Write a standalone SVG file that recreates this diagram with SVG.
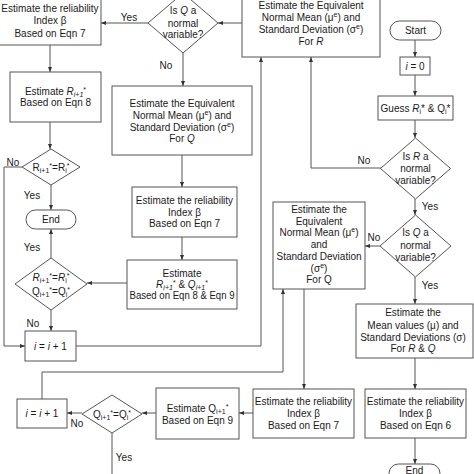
<svg xmlns="http://www.w3.org/2000/svg" width="474" height="474" viewBox="0 0 474 474">
<defs>
<marker id="ah" viewBox="0 0 10 10" refX="10" refY="5" markerWidth="5" markerHeight="5" orient="auto" markerUnits="userSpaceOnUse">
<path d="M0,1 L10,5 L0,9 z" fill="#333"/>
</marker>
<style>
.n rect, .n polygon { fill:#fff; stroke:#555; stroke-width:1; }
text { font-family:"Liberation Sans", Arial, sans-serif; font-size:10px; fill:#1a1a1a; text-anchor:middle; }
.i { font-style:italic; }
.s { font-size:7px; }
.c path { fill:none; stroke:#555; stroke-width:1; marker-end:url(#ah); }
.c path.p { marker-end:none; }
</style>
</defs>
<rect width="474" height="474" fill="#fff"/>

<g id="connectors" class="c">
<path d="M415,40 V57"/>
<path d="M415,75 V96"/>
<path d="M415,120 V138"/>
<path d="M381,168 H311 V57"/>
<path d="M415,199 V215"/>
<path d="M380,246 H365"/>
<path d="M415,277 V304"/>
<path d="M415,358 V389"/>
<path d="M415,438 V464"/>
<path d="M304,289 V389"/>
<path d="M253,413 H239"/>
<path d="M156,413 H142"/>
<path d="M82,413 H67"/>
<path class="p" d="M112,433 V476"/>
<path d="M42,399 V372 H283 V289"/>
<path d="M148,23 H101"/>
<path d="M242,23 H218"/>
<path d="M183,53 V86"/>
<path d="M182,155 V187"/>
<path d="M182,237 V260"/>
<path d="M127,283 H87"/>
<path d="M51,258 V229"/>
<path d="M51,310 V331"/>
<path d="M50,45 V72"/>
<path d="M50,122 V149"/>
<path d="M51,185 V210"/>
<path d="M22,167 H4 V346 H25"/>
<path d="M76,346 H261 V57"/>
<text x="364" y="163.5">No</text>
<text x="430" y="209.5">Yes</text>
<text x="374" y="240.5">No</text>
<text x="430" y="288.5">Yes</text>
<text x="77" y="426.5">No</text>
<text x="124" y="460.5">Yes</text>
<text x="129" y="20.5">Yes</text>
<text x="166" y="68.5">No</text>
<text x="32" y="250.5">Yes</text>
<text x="33" y="326.5">No</text>
<text x="32" y="198.5">Yes</text>
<text x="13" y="165.5">No</text>
</g>

<g id="beta-top-left" class="n">
<rect x="-1" y="-3" width="102" height="48"/>
<text x="50" y="11.5">Estimate the reliability</text>
<text x="50" y="24">Index β</text>
<text x="50" y="36.5">Based on Eqn 7</text>
</g>

<g id="is-q-normal-1" class="n">
<polygon points="183,-7 218,23 183,53 148,23"/>
<text x="183" y="13.5">Is <tspan class="i">Q</tspan> a</text>
<text x="183" y="26.5">normal</text>
<text x="183" y="38">variable?</text>
</g>

<g id="equiv-r" class="n">
<rect x="242" y="-3" width="138" height="60"/>
<text x="311" y="8.5">Estimate the Equivalent</text>
<text x="311" y="20.5">Normal Mean (μ<tspan class="s" dy="-4">e</tspan><tspan dy="4">) and</tspan></text>
<text x="311" y="32.5">Standard Deviation (σ<tspan class="s" dy="-4">e</tspan><tspan dy="4">)</tspan></text>
<text x="311" y="44.5">For <tspan class="i">R</tspan></text>
</g>

<g id="start" class="n">
<rect x="390" y="21" width="51" height="19" rx="9.5"/>
<text x="415.5" y="34">Start</text>
</g>

<g id="i-zero" class="n">
<rect x="400" y="57" width="30" height="18"/>
<text x="415" y="69.5"><tspan class="i">i</tspan> = 0</text>
</g>

<g id="guess" class="n">
<rect x="378" y="96" width="75" height="24"/>
<text x="415.5" y="111.5">Guess <tspan class="i">R</tspan><tspan class="s" dy="2">i</tspan><tspan dy="-2">* &amp; Q</tspan><tspan class="s" dy="2">i</tspan><tspan dy="-2">*</tspan></text>
</g>

<g id="is-r-normal" class="n">
<polygon points="415.5,138 450.5,168.5 415.5,199 380.5,168.5"/>
<text x="415.5" y="159.5">Is <tspan class="i">R</tspan> a</text>
<text x="415.5" y="171.5">normal</text>
<text x="415.5" y="183.5">variable?</text>
</g>

<g id="is-q-normal-2" class="n">
<polygon points="415.5,215 451,246 415.5,277 380,246"/>
<text x="415.5" y="236">Is <tspan class="i">Q</tspan> a</text>
<text x="415.5" y="248.5">normal</text>
<text x="415.5" y="261">variable?</text>
</g>

<g id="equiv-q-right" class="n">
<rect x="273" y="202" width="92" height="87"/>
<text x="319" y="213">Estimate the</text>
<text x="319" y="224.7">Equivalent</text>
<text x="319" y="236.4">Normal Mean (μ<tspan class="s" dy="-4">e</tspan><tspan dy="4">)</tspan></text>
<text x="319" y="248.1">and</text>
<text x="319" y="259.8">Standard Deviation</text>
<text x="319" y="271.5">(σ<tspan class="s" dy="-4">e</tspan><tspan dy="4">)</tspan></text>
<text x="319" y="283.2">For Q</text>
</g>

<g id="mean-values" class="n">
<rect x="356" y="304" width="117" height="54"/>
<text x="413" y="316">Estimate the</text>
<text x="413" y="328.5">Mean values (μ) and</text>
<text x="413" y="340.5">Standard Deviations (σ)</text>
<text x="413" y="352">For <tspan class="i">R</tspan> &amp; <tspan class="i">Q</tspan></text>
</g>

<g id="beta-eqn6" class="n">
<rect x="365" y="389" width="101" height="49"/>
<text x="415.5" y="404.5">Estimate the reliability</text>
<text x="415.5" y="416.5">Index β</text>
<text x="415.5" y="429">Based on Eqn 6</text>
</g>

<g id="end-2" class="n">
<rect x="389" y="464" width="51" height="19" rx="9.5"/>
<text x="414.5" y="473.5">End</text>
</g>

<g id="beta-bottom" class="n">
<rect x="253" y="389" width="101" height="49"/>
<text x="303.5" y="404.5">Estimate the reliability</text>
<text x="303.5" y="416.5">Index β</text>
<text x="303.5" y="429">Based on Eqn 7</text>
</g>

<g id="estimate-q" class="n">
<rect x="156" y="388" width="83" height="51"/>
<text x="197.5" y="411.5">Estimate  Q<tspan class="s" dy="2">i+1</tspan><tspan class="s" dy="-5">*</tspan></text>
<text x="197.5" y="423.5">Based on Eqn 9</text>
</g>

<g id="q-converged" class="n">
<polygon points="112,395 142,414 112,433 82,414"/>
<text x="112" y="417.5">Q<tspan class="s" dy="2">i+1</tspan><tspan class="s" dy="-5">*</tspan><tspan dy="3">=Q</tspan><tspan class="s" dy="2">i</tspan><tspan class="s" dy="-5">*</tspan></text>
</g>

<g id="increment-2" class="n">
<rect x="17" y="399" width="50" height="29"/>
<text x="42" y="417"><tspan class="i">i</tspan> = <tspan class="i">i</tspan> + 1</text>
</g>

<g id="increment-1" class="n">
<rect x="25" y="331" width="51" height="30"/>
<text x="50.5" y="349.5"><tspan class="i">i</tspan> = <tspan class="i">i</tspan> + 1</text>
</g>

<g id="rq-converged" class="n">
<polygon points="51,258 87,284 51,310 15,284"/>
<text x="51" y="280.5"><tspan class="i">R</tspan><tspan class="s" dy="2">i+1</tspan><tspan class="s" dy="-5">*</tspan><tspan dy="3">=</tspan><tspan class="i">R</tspan><tspan class="s" dy="2">i</tspan><tspan class="s" dy="-5">*</tspan></text>
<text x="51" y="295">Q<tspan class="s" dy="2">i+1</tspan><tspan class="s" dy="-5">*</tspan><tspan dy="3">=Q</tspan><tspan class="s" dy="2">i</tspan><tspan class="s" dy="-5">*</tspan></text>
</g>

<g id="end-1" class="n">
<rect x="26" y="210" width="50" height="19" rx="9.5"/>
<text x="51" y="223">End</text>
</g>

<g id="r-converged" class="n">
<polygon points="51,149 80,167 51,185 22,167"/>
<text x="51" y="170.5">R<tspan class="s" dy="2">i+1</tspan><tspan class="s" dy="-5">*</tspan><tspan dy="3">=R</tspan><tspan class="s" dy="2">i</tspan><tspan class="s" dy="-5">*</tspan></text>
</g>

<g id="estimate-r" class="n">
<rect x="10" y="72" width="91" height="50"/>
<text x="55.5" y="94.5">Estimate  <tspan class="i">R</tspan><tspan class="s i" dy="2">i+1</tspan><tspan class="s" dy="-5">*</tspan></text>
<text x="55.5" y="106">Based on Eqn 8</text>
</g>

<g id="equiv-q-top" class="n">
<rect x="112" y="86" width="140" height="69"/>
<text x="182" y="106.5">Estimate the Equivalent</text>
<text x="182" y="118.5">Normal Mean (μ<tspan class="s" dy="-4">e</tspan><tspan dy="4">) and</tspan></text>
<text x="182" y="130.5">Standard Deviation (σ<tspan class="s" dy="-4">e</tspan><tspan dy="4">)</tspan></text>
<text x="182" y="142">For <tspan class="i">Q</tspan></text>
</g>

<g id="beta-mid" class="n">
<rect x="132" y="187" width="105" height="50"/>
<text x="184.5" y="203.5">Estimate the reliability</text>
<text x="184.5" y="215.5">Index β</text>
<text x="184.5" y="227">Based on Eqn 7</text>
</g>

<g id="estimate-rq" class="n">
<rect x="127" y="260" width="110" height="49"/>
<text x="182" y="276.5">Estimate</text>
<text x="182" y="287.5"><tspan class="i">R</tspan><tspan class="s i" dy="2">i+1</tspan><tspan class="s" dy="-5">*</tspan><tspan dy="3">  &amp;   </tspan><tspan class="i">Q</tspan><tspan class="s i" dy="2">i+1</tspan><tspan class="s" dy="-5">*</tspan></text>
<text x="182" y="298.5" textLength="105" lengthAdjust="spacingAndGlyphs">Based on Eqn 8 &amp; Eqn 9</text>
</g>
</svg>
